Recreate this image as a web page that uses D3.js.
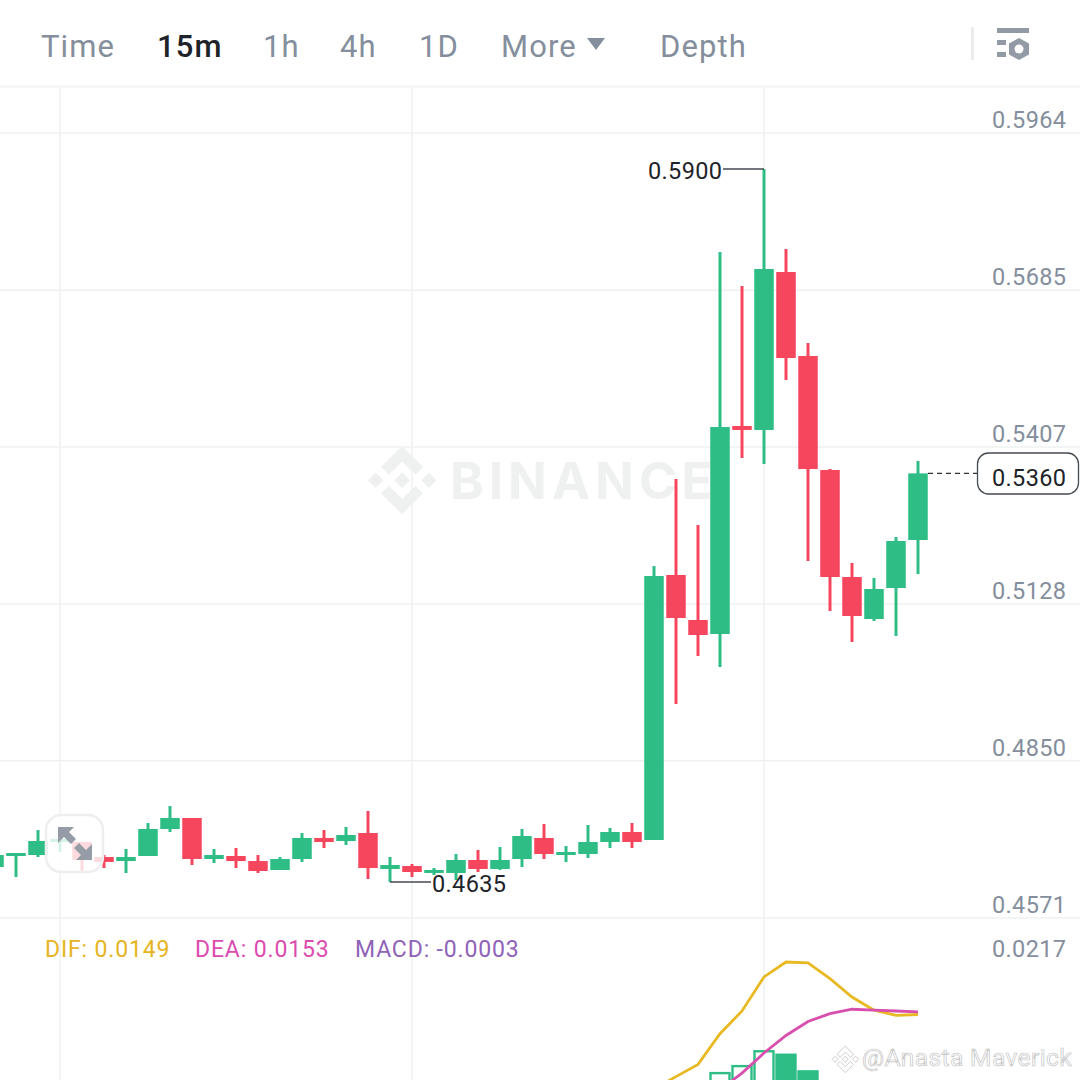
<!DOCTYPE html>
<html>
<head>
<meta charset="utf-8">
<script src="https://cdn.jsdelivr.net/npm/d3@7"></script>
<style>
  html, body { margin: 0; padding: 0; background: #fff; overflow: hidden; }
  svg { display: block; }
  text { font-family: Roboto, sans-serif; }
</style>
</head>
<body>
<svg id="chart" width="1080" height="1080"></svg>
<script>
// candles, left to right
var opens = [0.46615,0.46810,0.46828,0.47059,0.47059,0.46792,0.46721,0.46810,0.47289,0.47485,0.46757,0.46810,0.46721,0.46562,0.46757,0.47130,0.47076,0.47218,0.46580,0.46633,0.46509,0.46509,0.46739,0.46580,0.46757,0.47130,0.46828,0.46846,0.47059,0.47236,0.47094,0.51797,0.50998,0.50750,0.54441,0.54370,0.57173,0.55683,0.53660,0.51761,0.51016,0.51566,0.52418];
var closes = [0.46828,0.46863,0.47076,0.47112,0.46739,0.46704,0.46792,0.47289,0.47485,0.46757,0.46828,0.46721,0.46544,0.46757,0.47130,0.47059,0.47183,0.46597,0.46650,0.46526,0.46562,0.46739,0.46580,0.46739,0.47165,0.46846,0.46881,0.47059,0.47236,0.47059,0.51779,0.51034,0.50732,0.54423,0.54370,0.57226,0.55647,0.53677,0.51761,0.51069,0.51548,0.52400,0.53600];
var highs = [0.46846,0.46863,0.47272,0.47112,0.47059,0.46828,0.46934,0.47396,0.47697,0.47485,0.46934,0.46952,0.46828,0.46792,0.47218,0.47272,0.47325,0.47609,0.46792,0.46668,0.46597,0.46846,0.46917,0.46970,0.47289,0.47378,0.46988,0.47360,0.47307,0.47396,0.51956,0.53500,0.52684,0.57528,0.56925,0.59000,0.57581,0.55913,0.53677,0.52010,0.51743,0.52471,0.53819];
var lows = [0.46420,0.46438,0.46792,0.46881,0.46526,0.46597,0.46509,0.46810,0.47236,0.46650,0.46686,0.46597,0.46509,0.46562,0.46704,0.46952,0.47005,0.46402,0.46349,0.46438,0.46473,0.46384,0.46526,0.46562,0.46615,0.46757,0.46704,0.46775,0.46952,0.46952,0.47094,0.49507,0.50359,0.50164,0.53873,0.53766,0.55257,0.52045,0.51158,0.50608,0.50980,0.50714,0.51814];

var priceTicks = [0.5964, 0.5685, 0.5407, 0.5128, 0.4850, 0.4571];
var gridCandles = [3, 19, 35];
var tabLabels = ["Time", "15m", "1h", "4h", "1D", "More", "Depth"];

// macd pane, starts at candle 30
var macdStart = 30;
var difValues = [0.0064,0.0078,0.0092,0.0127,0.0153,0.0192,0.0209,0.0208,0.0190,0.0169,0.0154,0.0148,0.0149];
var deaValues = [null,null,null,0.0063,0.0082,0.0105,0.0125,0.0141,0.0150,0.0155,0.0154,0.0153,0.0152];
// only these bars reach the visible part of the pane
var histStart = 33;
var histValues = [0.0082,0.0090,0.0107,0.0103,0.0084];

var green = "#2ebd85", red = "#f6465d", gridColor = "#eff0f1", grey = "#848e9c", dark = "#1e2329";

var svg = d3.select("#chart");

var x = d3.scaleLinear().domain([0, 42]).range([-6, 918]);
var y = d3.scaleLinear().domain([0.4571, 0.5964]).range([918, 133]);
var yMacd = d3.scaleLinear().domain([0.0149, 0.0217]).range([1014.5, 955]);
var logoPath = "M38.73 53.2L63.3 28.62l24.59 24.6 14.3-14.31L63.3 0 24.42 38.88zM0 63.31l14.3-14.31 14.31 14.3-14.31 14.31zM38.73 73.41l24.57 24.58 24.59-24.59 14.31 14.29-.01.01L63.3 126.61 24.42 87.74l-.02-.02zM98.3 63.31l14.31-14.31 14.3 14.3-14.3 14.31zM77.83 63.3L63.3 48.76 52.56 59.5l-1.24 1.23-2.54 2.54 14.52 14.52 14.53-14.48z";

function drawHeader() {
  var tabX = [41, 157, 263, 340, 419, 501, 660];
  svg.selectAll(".tab").data(tabLabels).join("text")
    .attr("class", "tab")
    .attr("x", function(d, i) { return tabX[i]; })
    .attr("y", 57)
    .attr("font-size", 31)
    .attr("letter-spacing", 1.1)
    .attr("font-weight", function(d) { return d == "15m" ? 500 : 400; })
    .attr("fill", function(d) { return d == "15m" ? dark : grey; })
    .text(function(d) { return d; });

  svg.append("path").attr("d", "M587 38H605L596 50Z").attr("fill", grey);
  svg.append("rect").attr("x", 971).attr("y", 27).attr("width", 3).attr("height", 33).attr("fill", "#ececec");
  svg.append("rect").attr("x", 0).attr("y", 85).attr("width", 1080).attr("height", 3).attr("fill", "#f6f6f6");

  // settings icon
  var ic = svg.append("g").attr("fill", "#929aa5");
  ic.append("rect").attr("x", 997).attr("y", 28).attr("width", 32).attr("height", 5);
  ic.append("rect").attr("x", 997).attr("y", 40).attr("width", 9).attr("height", 5);
  ic.append("rect").attr("x", 997).attr("y", 52).attr("width", 9).attr("height", 5);
  ic.append("path").attr("d", "M1019 38L1029 43.5V54.5L1019 60L1009 54.5V43.5Z");
  ic.append("circle").attr("cx", 1019).attr("cy", 49).attr("r", 4.5).attr("fill", "#fff");
}

function drawGrid() {
  svg.selectAll(".hgrid").data(priceTicks).join("line")
    .attr("class", "hgrid")
    .attr("x1", 0).attr("x2", 1080)
    .attr("y1", function(d) { return y(d); })
    .attr("y2", function(d) { return y(d); })
    .attr("stroke", gridColor).attr("stroke-width", 1.5);

  svg.selectAll(".vgrid").data(gridCandles).join("line")
    .attr("class", "vgrid")
    .attr("x1", function(d) { return x(d); })
    .attr("x2", function(d) { return x(d); })
    .attr("y1", 88).attr("y2", 1080)
    .attr("stroke", gridColor).attr("stroke-width", 1.5);
}

function drawWatermark() {
  svg.append("path").attr("d", logoPath)
    .attr("transform", "translate(368,446) scale(0.54)")
    .attr("fill", "#eff0f0");
  svg.append("text").attr("x", 450).attr("y", 499)
    .style("font-family", "Inter, sans-serif")
    .attr("font-size", 51).attr("font-weight", 700)
    .attr("letter-spacing", 5)
    .attr("fill", "#eff0f0")
    .text("BINANCE");
}

function drawCandles() {
  var idx = d3.range(opens.length);
  var bodyW = 19.5;
  function col(i) { return closes[i] >= opens[i] ? green : red; }

  svg.selectAll(".wick").data(idx).join("line")
    .attr("class", "wick")
    .attr("x1", function(i) { return x(i); })
    .attr("x2", function(i) { return x(i); })
    .attr("y1", function(i) { return y(highs[i]); })
    .attr("y2", function(i) { return y(lows[i]); })
    .attr("stroke", col).attr("stroke-width", 3);

  svg.selectAll(".body").data(idx).join("rect")
    .attr("class", "body")
    .attr("x", function(i) { return x(i) - bodyW / 2; })
    .attr("width", bodyW)
    .attr("y", function(i) { return y(Math.max(opens[i], closes[i])); })
    .attr("height", function(i) { return Math.max(2.5, Math.abs(y(opens[i]) - y(closes[i]))); })
    .attr("fill", col);
}

function drawPriceLabels() {
  svg.selectAll(".ptick").data(priceTicks).join("text")
    .attr("class", "ptick")
    .attr("x", 992)
    .attr("y", function(d) { return y(d) - 5; })
    .attr("font-size", 23.5).attr("letter-spacing", 0.35)
    .attr("fill", grey)
    .text(function(d) { return d.toFixed(4); });

  var maxI = d3.range(highs.length).reduce(function(a, b) { return highs[b] > highs[a] ? b : a; }, 0);
  var minI = d3.range(lows.length).reduce(function(a, b) { return lows[b] < lows[a] ? b : a; }, 0);
  var last = closes.length - 1;

  svg.append("line").attr("x1", 723).attr("x2", x(maxI))
    .attr("y1", y(highs[maxI])).attr("y2", y(highs[maxI]))
    .attr("stroke", "#444a52").attr("stroke-width", 1.4);
  svg.append("text").attr("x", 648).attr("y", y(highs[maxI]) + 10)
    .attr("font-size", 23.5).attr("letter-spacing", 0.35).attr("fill", dark)
    .text(highs[maxI].toFixed(4));

  svg.append("line").attr("x1", x(minI)).attr("x2", 431)
    .attr("y1", y(lows[minI])).attr("y2", y(lows[minI]))
    .attr("stroke", "#444a52").attr("stroke-width", 1.4);
  svg.append("text").attr("x", 432).attr("y", y(lows[minI]) + 10)
    .attr("font-size", 23.5).attr("letter-spacing", 0.35).attr("fill", dark)
    .text(lows[minI].toFixed(4));

  svg.append("line").attr("x1", x(last) + 10).attr("x2", 977)
    .attr("y1", y(closes[last])).attr("y2", y(closes[last]))
    .attr("stroke", "#333").attr("stroke-width", 1.3).attr("stroke-dasharray", "5 4");
  svg.append("rect").attr("x", 977.5).attr("y", 453).attr("width", 101).attr("height", 41).attr("rx", 11)
    .attr("fill", "#fff").attr("stroke", "#444a52").attr("stroke-width", 1.3);
  svg.append("text").attr("x", 992).attr("y", 486)
    .attr("font-size", 23.5).attr("letter-spacing", 0.35).attr("fill", dark)
    .text(closes[last].toFixed(4));
}

function drawExpandButton() {
  svg.append("rect").attr("x", 46).attr("y", 815).attr("width", 57).attr("height", 57).attr("rx", 15)
    .attr("fill", "#fff").attr("fill-opacity", 0.8)
    .attr("stroke", "#eeeeee").attr("stroke-width", 2.5);
  var g = svg.append("g").attr("fill", "#959ca8");
  g.append("path").attr("d", "M58 827H74L69 832L76 839L71 844L64 837L58 843Z");
  g.append("path").attr("d", "M92 860H76L81 855L74 848L79 843L86 850L92 844Z");
}

function drawMacd() {
  var legend = [
    { label: "DIF: 0.0149", x: 45, color: "#e6b422" },
    { label: "DEA: 0.0153", x: 195, color: "#dc4bb0" },
    { label: "MACD: -0.0003", x: 355, color: "#8e63b8" }
  ];
  svg.selectAll(".legend").data(legend).join("text")
    .attr("class", "legend")
    .attr("x", function(d) { return d.x; })
    .attr("y", 957)
    .attr("font-size", 23).attr("letter-spacing", 0.85)
    .attr("fill", function(d) { return d.color; })
    .text(function(d) { return d.label; });

  svg.append("text").attr("x", 992).attr("y", 957)
    .attr("font-size", 23.5).attr("letter-spacing", 0.35).attr("fill", grey)
    .text("0.0217");

  svg.selectAll(".hist").data(histValues).join("rect")
    .attr("class", "hist")
    .attr("x", function(d, i) { return x(histStart + i) - 9.5; })
    .attr("width", 19)
    .attr("y", function(d) { return yMacd(d); })
    .attr("height", function(d) { return yMacd(0) - yMacd(d); })
    .attr("fill", function(d, i) { return i > 0 && d < histValues[i - 1] ? green : "#fff"; })
    .attr("stroke", green).attr("stroke-width", 2.4);

  var line = d3.line()
    .defined(function(d) { return d != null; })
    .x(function(d, i) { return x(macdStart + i); })
    .y(function(d) { return yMacd(d); });

  svg.append("path").attr("d", line(difValues))
    .attr("fill", "none").attr("stroke", "#e8b923").attr("stroke-width", 2.8);
  svg.append("path").attr("d", line(deaValues))
    .attr("fill", "none").attr("stroke", "#d94fae").attr("stroke-width", 2.8);
}

function drawCredit() {
  svg.append("path").attr("d", logoPath)
    .attr("transform", "translate(832,1046) scale(0.21)")
    .attr("fill", "#fff").attr("stroke", "#c4c4c4").attr("stroke-width", 4);
  svg.append("text").attr("x", 862).attr("y", 1066)
    .attr("font-size", 24.5).attr("letter-spacing", 0.4)
    .attr("fill", "#fff").attr("stroke", "#c4c4c4").attr("stroke-width", 0.7)
    .text("@Anasta Maverick");
}

drawGrid();
drawHeader();
drawWatermark();
drawCandles();
drawPriceLabels();
drawExpandButton();
drawMacd();
drawCredit();
</script>
</body>
</html>
